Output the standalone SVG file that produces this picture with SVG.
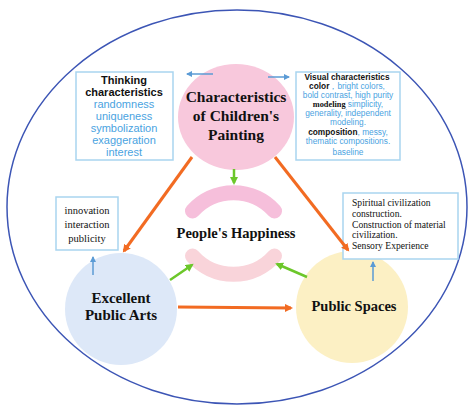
<svg xmlns="http://www.w3.org/2000/svg" width="474" height="412" viewBox="0 0 474 412">
<style>
.box{fill:#fff;stroke:#a9d5ef;stroke-width:1.5}
.ser{font-family:"Liberation Serif",serif;fill:#111}
.sb{font-family:"Liberation Serif",serif;font-weight:bold;fill:#111;text-anchor:middle}
.sans{font-family:"Liberation Sans",Arial,sans-serif}
.blk{fill:#111;font-weight:bold}
.blu{fill:#4aa3df}
.or{stroke:#f26b22;stroke-width:3;fill:none}
.gr{stroke:#6cc72a;stroke-width:2.5;fill:none}
.bl{stroke:#5b9bd5;stroke-width:1.5;fill:none}
</style>
<defs>
<marker id="ao" markerWidth="10" markerHeight="10" refX="6" refY="4" orient="auto" markerUnits="userSpaceOnUse"><path d="M0,0 L8,4 L0,8 Z" fill="#f26b22"/></marker>
<marker id="ag" markerWidth="10" markerHeight="10" refX="6" refY="4" orient="auto" markerUnits="userSpaceOnUse"><path d="M0,0 L8,4 L0,8 Z" fill="#6cc72a"/></marker>
<marker id="ab" markerWidth="8" markerHeight="8" refX="5" refY="3" orient="auto" markerUnits="userSpaceOnUse"><path d="M0,0 L6,3 L0,6 Z" fill="#5b9bd5"/></marker>
</defs>
<rect width="474" height="412" fill="#fff"/>
<ellipse cx="237" cy="207" rx="230" ry="197" fill="none" stroke="#3c55b5" stroke-width="1.5"/>

<g id="children-painting">
<ellipse cx="236" cy="117" rx="58" ry="53" fill="#f8c8dc"/>
<text class="sb" font-size="15.5" x="236" y="102">Characteristics</text>
<text class="sb" font-size="15.5" x="236" y="121">of Children's</text>
<text class="sb" font-size="15.5" x="236" y="140">Painting</text>
</g>

<g id="happiness">
<path d="M 192.5 211 A 55 55 0 0 1 274.5 211" fill="none" stroke="#f6bfdb" stroke-width="15" stroke-linecap="round"/>
<path d="M 192.5 256 A 55 55 0 0 0 274.5 256" fill="none" stroke="#f9d4da" stroke-width="15" stroke-linecap="round"/>
<text class="sb" font-size="14.5" x="236" y="238">People's Happiness</text>
</g>

<g id="public-arts">
<circle cx="121" cy="309" r="56" fill="#dde8f8"/>
<text class="sb" font-size="15" x="121" y="303">Excellent</text>
<text class="sb" font-size="15" x="121" y="320">Public Arts</text>
</g>

<g id="public-spaces">
<circle cx="352" cy="307" r="56" fill="#fcf0c4"/>
<text class="sb" font-size="14.5" x="354" y="311">Public Spaces</text>
</g>

<g id="thinking">
<rect class="box" x="76" y="72" width="97" height="88"/>
<g class="sans" font-size="11" text-anchor="middle">
<text class="blk" x="124" y="84">Thinking</text>
<text class="blk" x="124" y="96">characteristics</text>
<text class="blu" x="124" y="108">randomness</text>
<text class="blu" x="124" y="120">uniqueness</text>
<text class="blu" x="124" y="132">symbolization</text>
<text class="blu" x="124" y="144">exaggeration</text>
<text class="blu" x="124" y="156">interest</text>
</g>
</g>

<g id="visual">
<rect class="box" x="296" y="72" width="104" height="88"/>
<g class="sans" font-size="8.3" text-anchor="middle">
<text class="blk" x="347" y="80">Visual characteristics</text>
<text x="347" y="89"><tspan class="blk">color</tspan><tspan class="blu">，bright colors,</tspan></text>
<text class="blu" x="348" y="98">bold contrast, high purity</text>
<text x="348" y="107"><tspan class="blk" font-family="Liberation Serif,serif">modeling</tspan><tspan class="blu">   simplicity,</tspan></text>
<text class="blu" x="348" y="116">generality, independent</text>
<text class="blu" x="348" y="125">modeling.</text>
<text x="348" y="135"><tspan class="blk">composition</tspan><tspan class="blu">,  messy,</tspan></text>
<text class="blu" x="348" y="144">thematic compositions.</text>
<text class="blu" x="348" y="155">baseline</text>
</g>
</g>

<g id="public-arts-box">
<rect class="box" x="56" y="197" width="62" height="53"/>
<g class="ser" font-size="10.5" text-anchor="middle">
<text x="87" y="214">innovation</text>
<text x="87" y="228">interaction</text>
<text x="87" y="242">publicity</text>
</g>
</g>

<g id="public-spaces-box">
<rect class="box" x="343" y="193" width="115" height="66"/>
<g class="ser" font-size="9.6">
<text x="352" y="206">Spiritual civilization</text>
<text x="352" y="217">construction.</text>
<text x="352" y="228">Construction of material</text>
<text x="352" y="238">civilization.</text>
<text x="352" y="249">Sensory Experience</text>
</g>
</g>

<g id="connectors">
<line class="or" x1="192" y1="157" x2="124" y2="251" marker-end="url(#ao)"/>
<line class="or" x1="275" y1="157" x2="348" y2="250" marker-end="url(#ao)"/>
<line class="or" x1="178" y1="307" x2="291" y2="308" marker-end="url(#ao)"/>
<line class="gr" x1="234" y1="169" x2="234" y2="183" marker-end="url(#ag)"/>
<line class="gr" x1="170" y1="280" x2="192" y2="265" marker-end="url(#ag)"/>
<line class="gr" x1="307" y1="277" x2="277" y2="264" marker-end="url(#ag)"/>
<line class="bl" x1="213" y1="74" x2="187" y2="74" marker-end="url(#ab)"/>
<line class="bl" x1="268" y1="77" x2="289" y2="77" marker-end="url(#ab)"/>
<line class="bl" x1="93" y1="275" x2="93" y2="257" marker-end="url(#ab)"/>
<line class="bl" x1="373" y1="281" x2="373" y2="262" marker-end="url(#ab)"/>
</g>
</svg>
